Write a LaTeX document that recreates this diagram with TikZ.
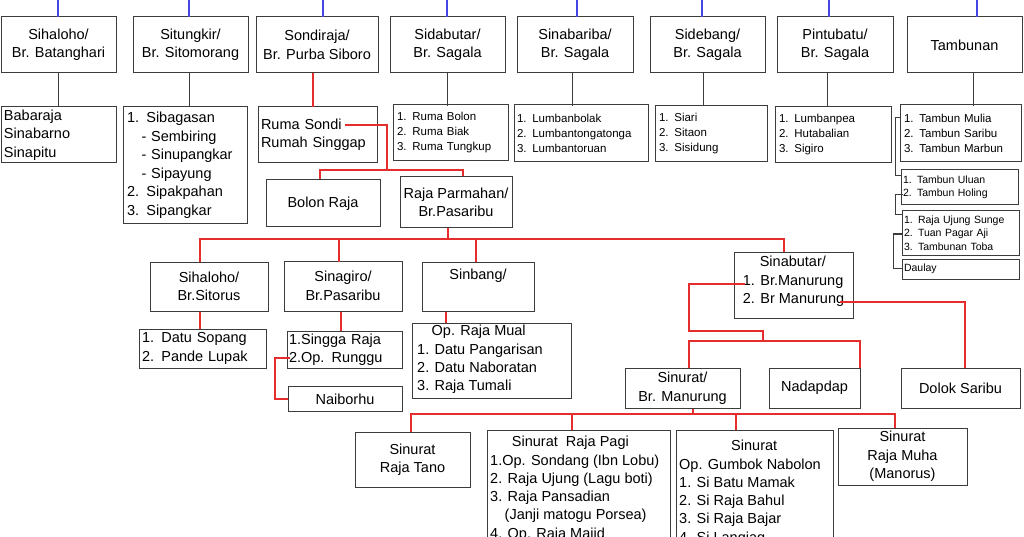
\documentclass[tikz,border=0pt]{standalone}
\usepackage{fontspec}
\setmainfont{Liberation Sans}
\definecolor{lnred}{RGB}{230,45,45}
\definecolor{lnblue}{RGB}{70,70,230}
\definecolor{lngray}{RGB}{60,60,60}
\begin{document}
\begin{tikzpicture}[x=1pt,y=-1pt,
  box/.style={draw=lngray,line width=1pt,inner sep=0pt,align=center,font=\fontsize{14.5}{18.5}\selectfont},
  sbox/.style={box,font=\fontsize{11.5}{15}\selectfont},
  txt/.style={inner sep=0pt,align=left,font=\fontsize{14.5}{18.3}\selectfont},
  blk/.style={draw=lngray,line width=1pt},
  redln/.style={draw=lnred,line width=1.2pt},
  blu/.style={draw=lnblue,line width=1.3pt}]
\useasboundingbox (0,0) rectangle (1024,537);
\clip (0,0) rectangle (1024,537);
% top row
\node[box,minimum width=115,minimum height=56] (a1) at (58.5,45) {Sihaloho/\\Br. Batanghari};
\node[box,minimum width=115,minimum height=56] (a2) at (190.5,45) {Situngkir/\\Br. Sitomorang};
\node[box,minimum width=122,minimum height=56] (a3) at (317,45) {Sondiraja/\\Br. Purba Siboro};
\node[box,minimum width=115,minimum height=56] (a4) at (447.5,45) {Sidabutar/\\Br. Sagala};
\node[box,minimum width=116,minimum height=56] (a5) at (575,45) {Sinabariba/\\Br. Sagala};
\node[box,minimum width=115,minimum height=56] (a6) at (707.5,45) {Sidebang/\\Br. Sagala};
\node[box,minimum width=116,minimum height=56] (a7) at (835,45) {Pintubatu/\\Br. Sagala};
\node[box,minimum width=115,minimum height=56] (a8) at (964.5,45) {Tambunan};
\foreach \x in {58,189,323,447,577,702,829,977}
  \draw[blu] (\x,0) -- (\x,17);
% second row
\node[box,minimum width=115,minimum height=56,text width=109,align=left] (b1) at (58.5,135) {Babaraja\\Sinabarno\\Sinapitu};
\node[box,minimum width=124,minimum height=117,text width=116,align=left] (b2) at (185,165.5) {1. Sibagasan\\\hspace*{1em}- Sembiring\\\hspace*{1em}- Sinupangkar\\\hspace*{1em}- Sipayung\\2. Sipakpahan\\3. Sipangkar};
\node[box,minimum width=119,minimum height=56,text width=113,align=left] (b3) at (317.5,135) {Ruma Sondi\\Rumah Singgap};
\node[sbox,minimum width=115,minimum height=56,text width=107,align=left] (b4) at (450.5,133) {1. Ruma Bolon\\2. Ruma Biak\\3. Ruma Tungkup};
\node[sbox,minimum width=134,minimum height=57,text width=128,align=left] (b5) at (581,133.5) {1. Lumbanbolak\\2. Lumbantongatonga\\3. Lumbantoruan};
\node[sbox,minimum width=112,minimum height=56,text width=104,align=left] (b6) at (711,134) {1. Siari\\2. Sitaon\\3. Sisidung};
\node[sbox,minimum width=116,minimum height=56,text width=108,align=left] (b7) at (833,135) {1. Lumbanpea\\2. Hutabalian\\3. Sigiro};
\node[sbox,minimum width=121,minimum height=57,text width=113,align=left] (b8) at (960.5,133.5) {1. Tambun Mulia\\2. Tambun Saribu\\3. Tambun Marbun};
\node[sbox,minimum width=117,minimum height=35,text width=113,align=left,font=\fontsize{10.5}{13.5}\selectfont] (t1) at (959.5,187.5) {1. Tambun Uluan\\2. Tambun Holing};
\node[sbox,minimum width=117,minimum height=44,text width=113,align=left,font=\fontsize{10.5}{13.5}\selectfont] (t2) at (960.5,233) {1. Raja Ujung Sunge\\2. Tuan Pagar Aji\\3. Tambunan Toba};
\node[sbox,minimum width=117,minimum height=20,text width=113,align=left,font=\fontsize{10.5}{13.5}\selectfont] (t3) at (960.5,269) {Daulay};
\foreach \x in {58,189,447,572,703,827,973}
  \draw[blk] (\x,73) -- (\x,106);
\coordinate (tm) at (900,118);
\draw[blk] (tm) -- (895,118) -- (895,176) -- (t1.west |- 0,176);
\draw[blk] (903,195) -- (895,195) -- (895,215) -- (t2.west |- 0,215);
\draw[blk] (903,234) -- (893,234) -- (893,268) -- (t3.west |- 0,268);
% Sondiraja branch
\draw[redln] (313,73) -- (313,107);
\node[box,minimum width=114,minimum height=47] (bolon) at (323,203.5) {Bolon Raja};
\node[box,minimum width=112,minimum height=51] (parm) at (456,202.5) {Raja Parmahan/\\Br.Pasaribu};
\draw[redln] (345,125) -- (387,125) -- (387,170);
\draw[redln] (bolon.north -| 320,0) -- (320,170) -- (463,170) -- (parm.north -| 463,0);
% level 3
\node[box,minimum width=118,minimum height=49] (sit) at (209,286.5) {Sihaloho/\\Br.Sitorus};
\node[box,minimum width=118,minimum height=50] (sng) at (343,286) {Sinagiro/\\Br.Pasaribu};
\node[box,minimum width=112,minimum height=49] (sbg) at (478,286.5) {Sinbang/\\\strut};
\node[box,minimum width=119,minimum height=66] (snb) at (793.5,285) {};
\node[txt,anchor=north] at (793.5,256) {\makebox[100pt]{Sinabutar/}\\1. Br.Manurung\\2. Br Manurung};
\draw[redln] (parm.south -| 448,0) -- (448,239);
\draw[redln] (200,262) -- (200,239) -- (784,239) -- (784,252);
\draw[redln] (339,262) -- (339,239);
\draw[redln] (476,262) -- (476,239);
% level 4
\node[box,minimum width=127,minimum height=39,text width=121,align=left] (dat) at (202.5,348.5) {1. Datu Sopang\\2. Pande Lupak};
\node[box,minimum width=115,minimum height=37,text width=111,align=left] (sgr) at (344.5,349.5) {1.Singga Raja\\2.Op. Runggu};
\node[box,minimum width=114,minimum height=25] (nai) at (345,399) {Naiborhu};
\node[box,minimum width=159,minimum height=75] (mual) at (491.5,360.5) {};
\node[txt,anchor=north west] at (417,325) {\hspace*{1em}Op. Raja Mual\\1. Datu Pangarisan\\2. Datu Naboratan\\3. Raja Tumali};
\draw[redln] (sit.south -| 200,0) -- (dat.north -| 200,0);
\draw[redln] (sng.south -| 341,0) -- (sgr.north -| 341,0);
\draw[redln] (sbg.south -| 446,0) -- (mual.north -| 446,0);
\draw[redln] (290,358) -- (275,358) -- (275,399) -- (nai.west);
% Sinabutar children
\node[box,minimum width=115,minimum height=40] (sin) at (682.5,388) {Sinurat/\\Br. Manurung};
\node[box,minimum width=91,minimum height=40] (nad) at (814.5,388) {Nadapdap};
\node[box,minimum width=119,minimum height=40] (dol) at (960.5,388) {Dolok Saribu};
\draw[redln] (745,284) -- (689,284) -- (689,331) -- (763,331) -- (763,341);
\draw[redln] (689,368) -- (689,341) -- (860,341) -- (860,368);
\draw[redln] (840,302) -- (965,302) -- (dol.north -| 965,0);
% Sinurat children
\node[box,minimum width=115,minimum height=55] (tano) at (412.5,459.5) {Sinurat\\Raja Tano};
\node[box,minimum width=183,minimum height=140] (pagi) at (578.5,500) {};
\node[txt,anchor=north west] at (490,436) {\hspace*{1.5em}Sinurat\ \ Raja Pagi\\1.Op. Sondang (Ibn Lobu)\\2. Raja Ujung (Lagu boti)\\3. Raja Pansadian\\\hspace*{1em}(Janji matogu Porsea)\\4. Op. Raja Majid};
\node[box,minimum width=157,minimum height=140] (gum) at (754.5,500) {};
\node[txt,anchor=north west] at (679,440) {\makebox[150pt]{Sinurat}\\\makebox[150pt][l]{Op. Gumbok Nabolon}\\1. Si Batu Mamak\\2. Si Raja Bahul\\3. Si Raja Bajar\\4. Si Langiag};
\node[box,minimum width=129,minimum height=57] (muha) at (902.5,456.5) {Sinurat\\Raja Muha\\(Manorus)};
\draw[redln] (sin.south -| 693,0) -- (693,414);
\draw[redln] (tano.north -| 411,0) -- (411,414) -- (895,414) -- (muha.north -| 895,0);
\draw[redln] (572,414) -- (pagi.north -| 572,0);
\draw[redln] (736,414) -- (gum.north -| 736,0);
\end{tikzpicture}
\end{document}
